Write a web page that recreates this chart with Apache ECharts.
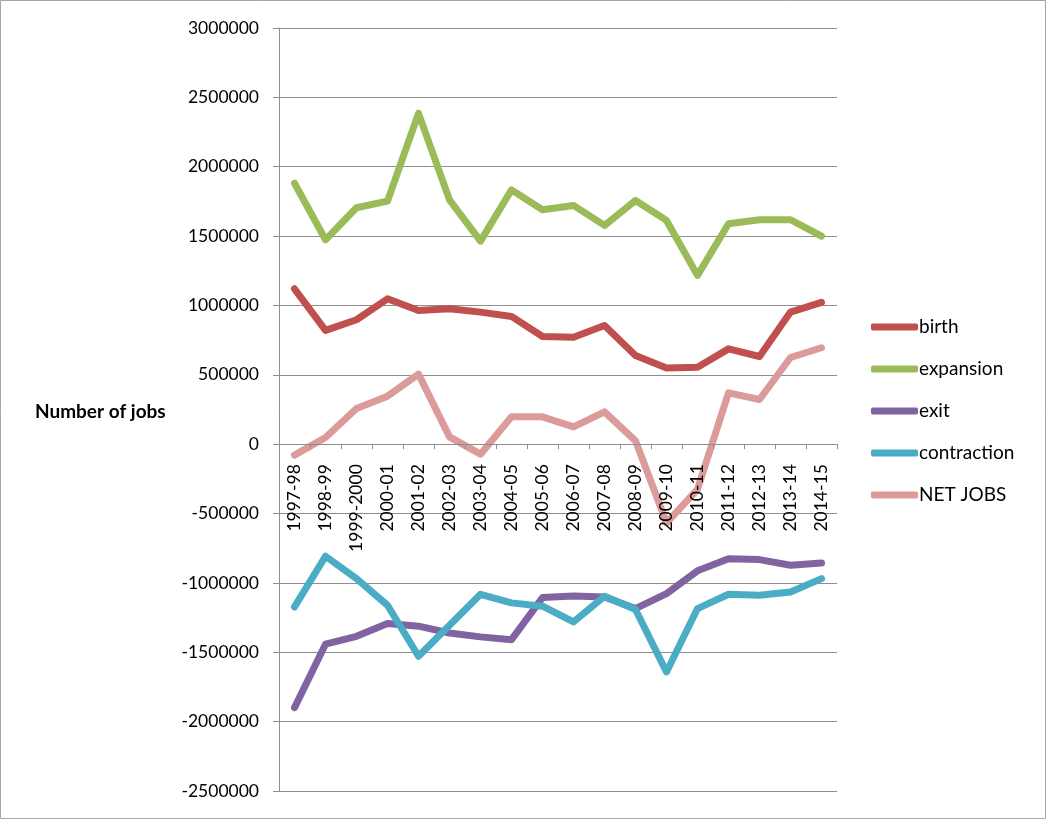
<!DOCTYPE html>
<html>
<head>
<meta charset="utf-8">
<script src="https://cdn.jsdelivr.net/npm/echarts@6/dist/echarts.min.js"></script>
<style>
html,body{margin:0;padding:0;background:#fff;}
#chart{width:1046px;height:819px;}
</style>
</head>
<body>
<div id="chart"></div>
<script>
const categories = ['1997-98','1998-99','1999-2000','2000-01','2001-02','2002-03','2003-04','2004-05','2005-06','2006-07','2007-08','2008-09','2009-10','2010-11','2011-12','2012-13','2013-14','2014-15'];
const birth = [1120000, 820000, 897000, 1048000, 964000, 976000, 952000, 921000, 776000, 771000, 856000, 639000, 550000, 555000, 687000, 632000, 952000, 1022000];
const expansion = [1881000, 1474000, 1704000, 1752000, 2385000, 1761000, 1464000, 1833000, 1690000, 1721000, 1577000, 1757000, 1613000, 1217000, 1589000, 1618000, 1618000, 1500000];
const exitJobs = [-1899000, -1442000, -1385000, -1293000, -1312000, -1361000, -1389000, -1409000, -1106000, -1094000, -1101000, -1185000, -1077000, -913000, -825000, -832000, -873000, -856000];
const contraction = [-1173000, -808000, -969000, -1161000, -1529000, -1305000, -1082000, -1144000, -1168000, -1281000, -1096000, -1192000, -1642000, -1185000, -1082000, -1089000, -1065000, -969000];
const netJobs = [-79000, 48000, 257000, 346000, 505000, 53000, -72000, 197000, 197000, 125000, 233000, 24000, -567000, -325000, 370000, 322000, 625000, 695000];
const seriesNames = ['birth','expansion','exit','contraction','NET JOBS'];
const seriesColors = ['#C0504D','#9BBB59','#8064A2','#4BACC6','#DB9B9A'];
const yMin = -2500000, yMax = 3000000, yStep = 500000;

const FONT = 'Lato';
const W = 1046, H = 819;
const G = {left: 279, right: 209, top: 28, bottom: 28};
const gridH = H - G.top - G.bottom;
// move x axis up from the grid bottom to the zero line
const zeroOffset = -gridH * (0 - yMin) / (yMax - yMin);

const chart = echarts.init(document.getElementById('chart'), null, {renderer:'canvas'});
const datas = [birth, expansion, exitJobs, contraction, netJobs];
const grayLine = '#8E8E8E';

chart.setOption({
  animation: false,
  backgroundColor: '#ffffff',
  grid: Object.assign({containLabel: false, outerBoundsMode: 'none'}, G),
  graphic: [
    {type:'rect', shape:{x:0.5, y:0.5, width:1045, height:818}, style:{fill:'none', stroke:'#A6A6A6', lineWidth:1}, silent:true},
    {type:'text', left: 35, top: 402, style:{text:'Number of jobs', fontFamily: FONT, fontWeight:'bold', fontSize:19, fill:'#000'}}
  ],
  legend: {
    orient: 'vertical',
    left: 871,
    top: 317,
    padding: 0,
    itemWidth: 47,
    itemHeight: 7,
    itemGap: 22,
    icon: 'roundRect',
    textStyle: {fontFamily: FONT, fontSize: 19, color:'#000', lineHeight: 20, padding:[0,0,0,-4]},
    data: seriesNames
  },
  xAxis: {
    type: 'category',
    data: categories,
    boundaryGap: true,
    position: 'bottom',
    offset: zeroOffset,
    z: 10,
    axisLine: {show: true, onZero: false, lineStyle:{color: grayLine, width:1}},
    axisTick: {show:true, length:5, lineStyle:{color: grayLine}},
    axisLabel: {rotate: 90, margin: 20, interval: 0, color:'#000', fontFamily: FONT, fontSize: 17.5},
    splitLine: {show:false}
  },
  yAxis: {
    type: 'value',
    min: yMin, max: yMax, interval: yStep,
    axisLine: {show:true, lineStyle:{color: grayLine, width:1}},
    axisTick: {show:true, length:6, lineStyle:{color: grayLine}},
    axisLabel: {margin: 20, color:'#000', fontFamily: FONT, fontSize: 17.5, formatter: (v)=>String(v)},
    splitLine: {show:true, lineStyle:{color: grayLine, width:1}}
  },
  series: seriesNames.map((n,i)=>({
    name: n,
    type: 'line',
    data: datas[i],
    showSymbol: false,
    symbol: 'none',
    color: seriesColors[i],
    lineStyle: {width: 7, color: seriesColors[i], cap:'round', join:'round'},
    itemStyle: {color: seriesColors[i]},
    z: 2 + i
  }))
});
</script>
</body>
</html>
